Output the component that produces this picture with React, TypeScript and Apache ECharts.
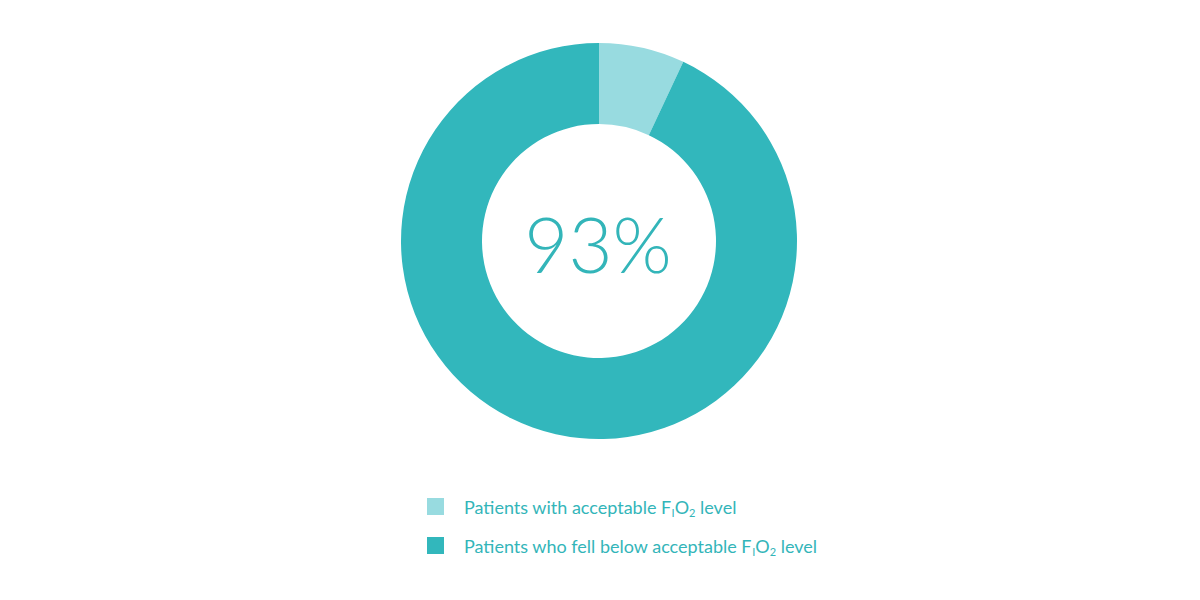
import React, { useEffect, useRef } from "react";
import * as echarts from "echarts";

const categories = [
  "Patients with acceptable F{sub|I}O{sub|2} level",
  "Patients who fell below acceptable F{sub|I}O{sub|2} level",
];
const values = [7, 93];
const colors = ["#98dbe0", "#32b7bc"];
const centerLabel = "93%";

export default function App() {
  const ref = useRef<HTMLDivElement>(null);
  useEffect(() => {
    if (!ref.current) return;
    const chart = echarts.init(ref.current, undefined, { renderer: "svg" });
    chart.setOption({
      animation: false,
      backgroundColor: "#ffffff",
      legend: {
        orient: "vertical",
        left: 422,
        top: 490,
        itemWidth: 17,
        itemHeight: 17,
        itemGap: 16,
        icon: "rect",
        selectedMode: false,
        data: categories,
        formatter: (n: string) => n,
        textStyle: {
          color: "#33b5b9",
          fontFamily: "Lato",
          fontSize: 18,
          lineHeight: 17,
          padding: [0, 0, 0, 15],
          rich: {
            sub: {
              fontSize: 11,
              color: "#33b5b9",
              fontFamily: "Lato",
              lineHeight: 17,
              padding: [12, 0, 0, 0],
            },
          },
        },
      },
      graphic: [
        {
          type: "text",
          x: 598,
          y: 243,
          style: {
            text: centerLabel,
            fill: "#33b5b9",
            font: "300 76px Lato",
            textAlign: "center",
            textVerticalAlign: "middle",
          },
        },
      ],
      series: [
        {
          type: "pie",
          center: [599, 241],
          radius: [117, 198],
          startAngle: 90,
          clockwise: true,
          label: { show: false },
          labelLine: { show: false },
          silent: true,
          data: categories.map((c, i) => ({
            name: c,
            value: values[i],
            itemStyle: { color: colors[i] },
          })),
        },
      ],
    });
    return () => chart.dispose();
  }, []);
  return (
    <div
      ref={ref}
      style={{ position: "fixed", left: 0, top: 0, width: 1200, height: 600 }}
    />
  );
}
